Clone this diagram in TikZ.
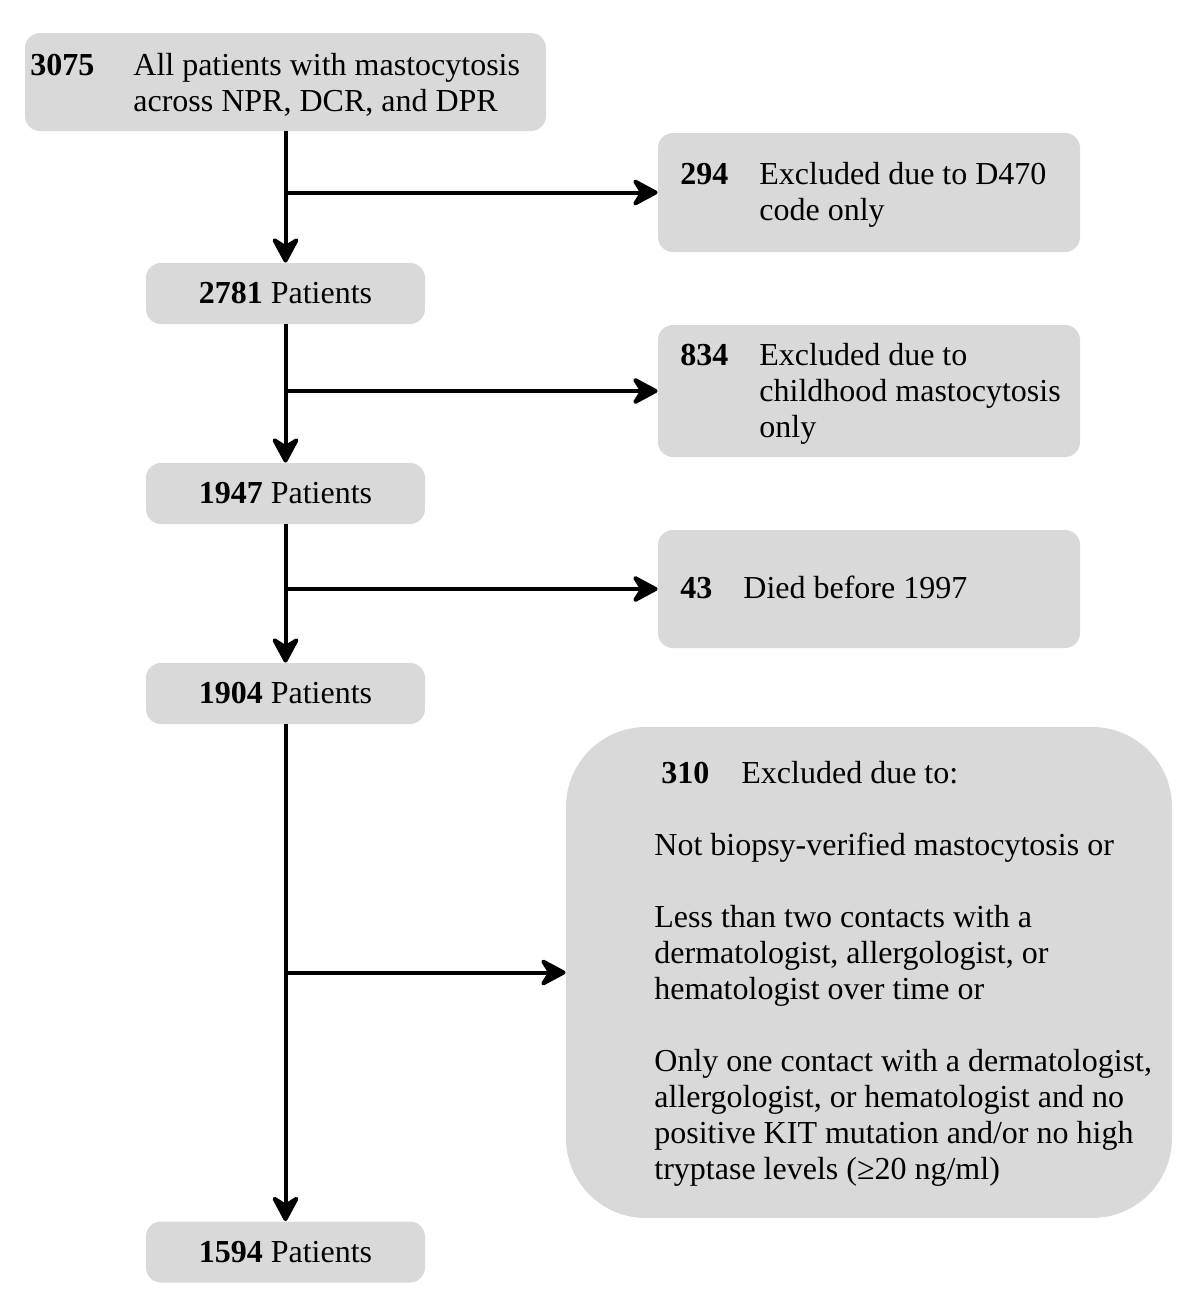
\documentclass[tikz,border=0pt]{standalone}
\usepackage{fontspec}
\setmainfont{Liberation Serif}
\usetikzlibrary{arrows.meta,positioning}
\definecolor{boxgray}{RGB}{217, 217, 217}

\begin{document}
\begin{tikzpicture}[x=0.5pt, y=-0.5pt, >={Stealth[length=15pt, width=16pt, inset=5pt, round]},
		flowBox/.style={draw=none, fill=boxgray, rounded corners=7.5pt, inner sep=0pt, font=\fontsize{16}{18}\selectfont},
		countBox/.style={flowBox, minimum width=139.5pt, minimum height=30.5pt},
		exclBox/.style={flowBox, minimum width=211pt},
		flowLine/.style={line width=2pt, ->, color=black},
		boxText/.style={inner sep=0pt, anchor=base west, font=\fontsize{16}{18}\selectfont}
		]
		\useasboundingbox (0,0) rectangle (1200,1303);
		
		% boxes on the main line
		\node [flowBox, minimum width=260.5pt, minimum height=49pt] (all) at (285.5,82) {};
		\node [countBox] (p2781) at (285.5,293.5) {\textbf{2781} Patients};
		\node [countBox] (p1947) at (285.5,493.5) {\textbf{1947} Patients};
		\node [countBox] (p1904) at (285.5,693.5) {\textbf{1904} Patients};
		\node [countBox] (p1594) at (285.5,1252) {\textbf{1594} Patients};
		
		% exclusion boxes
		\node [exclBox, minimum height=59.5pt] (ex294) at (869,192.5) {};
		\node [exclBox, minimum height=66pt] (ex834) at (869,391) {};
		\node [exclBox, minimum height=59pt] (ex43) at (869,589) {};
		\node [flowBox, rounded corners=40pt, minimum width=303pt, minimum height=245.5pt] (ex310) at (869,972.5) {};
		
		% texts
		\node [boxText] (allTxt) at (30,75) {\begin{tabular}[t]{@{}p{51.5pt}@{}l@{}}\textbf{3075} & All patients with mastocytosis\\ & across NPR, DCR, and DPR\end{tabular}};
		\node [boxText] (ex294Txt) at (680,184) {\begin{tabular}[t]{@{}p{39.5pt}@{}l@{}}\textbf{294} & Excluded due to D470\\ & code only\end{tabular}};
		\node [boxText] (ex834Txt) at (680,365) {\begin{tabular}[t]{@{}p{39.5pt}@{}l@{}}\textbf{834} & Excluded due to\\ & childhood mastocytosis\\ & only\end{tabular}};
		\node [boxText] (ex43Txt) at (680,598) {\begin{tabular}[t]{@{}p{31.5pt}@{}l@{}}\textbf{43} & Died before 1997\end{tabular}};
		\node [boxText] (ex310Txt) at (654,783) {\begin{tabular}[t]{@{}l@{}}
				\hspace*{3.5pt}\makebox[40pt][l]{\textbf{310}}Excluded due to:\\
				\\
				Not biopsy-verified mastocytosis or\\
				\\
				Less than two contacts with a\\
				dermatologist, allergologist, or\\
				hematologist over time or\\
				\\
				Only one contact with a dermatologist,\\
				allergologist, or hematologist and no\\
				positive KIT mutation and/or no high\\
				tryptase levels (≥20 ng/ml)
			\end{tabular}};
		
		% connectors
		\draw [flowLine] (all.south) -- (p2781.north);
		\draw [flowLine] (all.south |- ex294.west) -- (ex294.west);
		\draw [flowLine] (p2781.south) -- (p1947.north);
		\draw [flowLine] (p2781.south |- ex834.west) -- (ex834.west);
		\draw [flowLine] (p1947.south) -- (p1904.north);
		\draw [flowLine] (p1947.south |- ex43.west) -- (ex43.west);
		\draw [flowLine] (p1904.south) -- (p1594.north);
		\draw [flowLine] (p1904.south |- ex310.west) -- (ex310.west);
	\end{tikzpicture}
\end{document}
